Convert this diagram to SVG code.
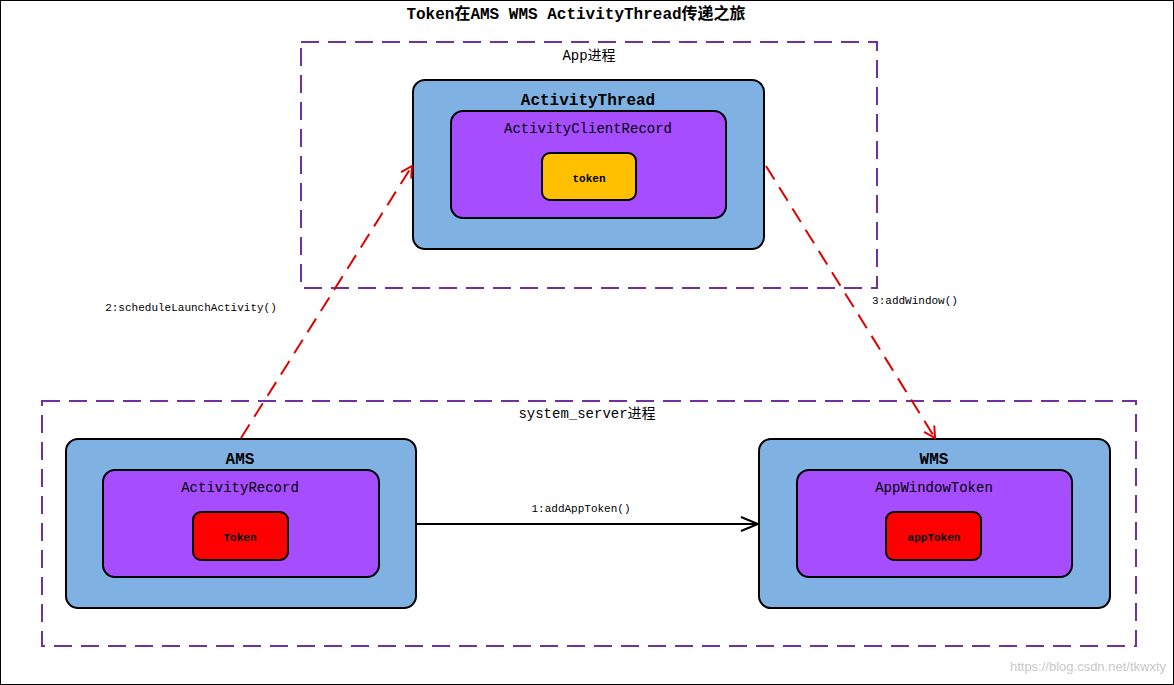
<svg xmlns="http://www.w3.org/2000/svg" width="1174" height="685" viewBox="0 0 1174 685">
<style>
.m{font-family:"Liberation Mono","Noto Sans CJK SC",monospace;fill:#000}
.grp{fill:none;stroke:#7030a0;stroke-width:2;stroke-dasharray:18,9}
.outer{fill:#7fb2e2;stroke:#000;stroke-width:2}
.mid{fill:#a64dff;stroke:#000;stroke-width:2}
.t1{font-size:16px;font-weight:bold}
.t2{font-size:14px}
.t3{font-size:11px;font-weight:bold}
.lbl{font-size:11px}
</style>
<defs>
<marker id="ar" markerWidth="14" markerHeight="14" refX="12" refY="7" orient="auto" markerUnits="userSpaceOnUse"><path d="M1,1 L12,7 L1,13" fill="none" stroke="#e00000" stroke-width="2"/></marker>
<marker id="ab" markerWidth="20" markerHeight="16" refX="18" refY="8" orient="auto" markerUnits="userSpaceOnUse"><path d="M1,1 L18,8 L1,15" fill="none" stroke="#000" stroke-width="2"/></marker>
</defs>
<rect x="0.5" y="0.5" width="1173" height="684" fill="#fff" stroke="#000"/>
<text class="m" x="576" y="19" text-anchor="middle" font-size="16" font-weight="bold">Token在AMS WMS ActivityThread传递之旅</text>
<g id="app-process"><rect class="grp" x="301" y="42" width="576" height="246"/><text class="m t2" x="589" y="60" text-anchor="middle">App进程</text></g>
<g id="system-server"><rect class="grp" x="42" y="401" width="1094" height="245"/><text class="m t2" x="587" y="418" text-anchor="middle">system_server进程</text></g>
<g id="activitythread"><rect class="outer" x="413" y="80" width="351" height="169" rx="12"/><text class="m t1" x="588" y="105" text-anchor="middle">ActivityThread</text>
<rect class="mid" x="451" y="111" width="275" height="107" rx="12"/><text class="m t2" x="588" y="133" text-anchor="middle">ActivityClientRecord</text>
<rect x="542" y="153" width="94" height="47" rx="8" fill="#ffc000" stroke="#000" stroke-width="2"/><text class="m t3" x="589" y="182" text-anchor="middle">token</text></g>
<g id="ams"><rect class="outer" x="66" y="439" width="350" height="169" rx="12"/><text class="m t1" x="240" y="464" text-anchor="middle">AMS</text>
<rect class="mid" x="103" y="470" width="276" height="107" rx="12"/><text class="m t2" x="240" y="492" text-anchor="middle">ActivityRecord</text>
<rect x="193" y="512" width="95" height="48" rx="8" fill="#ff0000" stroke="#000" stroke-width="2"/><text class="m t3" x="240" y="541" text-anchor="middle">Token</text></g>
<g id="wms"><rect class="outer" x="759" y="439" width="351" height="169" rx="12"/><text class="m t1" x="934" y="464" text-anchor="middle">WMS</text>
<rect class="mid" x="797" y="470" width="275" height="107" rx="12"/><text class="m t2" x="934" y="492" text-anchor="middle">AppWindowToken</text>
<rect x="886" y="512" width="95" height="48" rx="8" fill="#ff0000" stroke="#000" stroke-width="2"/><text class="m t3" x="934" y="541" text-anchor="middle">appToken</text></g>
<g id="connectors">
<line x1="241" y1="438" x2="412" y2="166" stroke="#e00000" stroke-width="2" stroke-dasharray="16,9" marker-end="url(#ar)"/>
<line x1="766" y1="166" x2="935" y2="438" stroke="#e00000" stroke-width="2" stroke-dasharray="16,9" marker-end="url(#ar)"/>
<line x1="416" y1="524" x2="758" y2="524" stroke="#000" stroke-width="2" marker-end="url(#ab)"/>
<text class="m lbl" x="191" y="311" text-anchor="middle">2:scheduleLaunchActivity()</text>
<text class="m lbl" x="915" y="304" text-anchor="middle">3:addWindow()</text>
<text class="m lbl" x="581" y="512" text-anchor="middle">1:addAppToken()</text>
</g>
<text x="1166" y="671" text-anchor="end" font-family="Liberation Sans,sans-serif" font-size="13" fill="#c8c8c8">https://blog.csdn.net/tkwxty</text>
</svg>
